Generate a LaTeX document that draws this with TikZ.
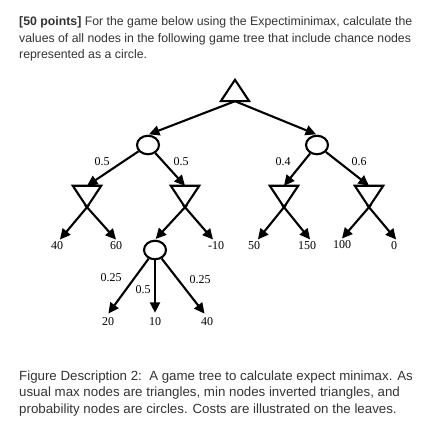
\documentclass[tikz,border=0pt]{standalone}
\usepackage{fontspec}
\setmainfont{Liberation Serif}
\newfontfamily\sansf{Liberation Sans}
\usetikzlibrary{arrows.meta,shapes.geometric}
\definecolor{txt}{RGB}{51,51,51}
\begin{document}
\begin{tikzpicture}[x=1pt,y=1pt,
  arr/.style={line width=2.1pt, -{Triangle[length=10.5pt,width=10pt]}},
  shapeline/.style={line width=2.1pt, line join=miter},
  chance/.style={ellipse, draw, line width=2.1pt, minimum width=22pt, minimum height=18.5pt, inner sep=0pt},
  tribox/.style={minimum width=28pt, minimum height=21pt, inner sep=0pt},
  leaf/.style={font=\fontsize{12}{12}\selectfont, inner sep=0pt, text height=8pt, text depth=0pt},
  prob/.style={font=\fontsize{12}{12}\selectfont, inner sep=0pt},
  para/.style={font=\sansf\fontsize{12.3}{12.3}\selectfont, text=txt, anchor=base west, inner sep=0pt},
  capt/.style={font=\sansf\fontsize{13.3}{13.3}\selectfont, text=txt, anchor=base west, inner sep=0pt}]
\useasboundingbox (0,0) rectangle (436,-430);

% question text
\node[para] (t1) at (19,-26) {\textbf{[50 points]} For the game below using the Expectiminimax, calculate the};
\node[para] (t2) at (19,-42.5) {values of all nodes in the following game tree that include chance nodes};
\node[para] (t3) at (19,-59) {represented as a circle.};

% root max node
\node[tribox] (r) at (235,-90.5) {};
\draw[shapeline] (r.south west) -- (r.south east) -- (r.north) -- cycle;

% chance nodes
\node[chance] (c1) at (148,-145) {};
\node[chance] (c2) at (317,-145) {};

% min nodes
\node[tribox] (m1) at (87,-196.5) {};
\node[tribox] (m2) at (185,-196.5) {};
\node[tribox] (m3) at (284,-196.5) {};
\node[tribox] (m4) at (369,-196.5) {};
\foreach \m in {m1,m2,m3,m4}
  \draw[shapeline] (\m.north west) -- (\m.north east) -- (\m.south) -- cycle;

% chance node under m2
\node[chance] (c3) at (155,-250) {};

% leaves
\node[leaf] (l1) at (57,-246) {40};
\node[leaf] (l2) at (116,-246) {60};
\node[leaf] (l3) at (216,-246) {-10};
\node[leaf] (l4) at (254,-246) {50};
\node[leaf] (l5) at (307,-246) {150};
\node[leaf] (l6) at (342,-245) {100};
\node[leaf] (l7) at (394,-246) {0};
\node[leaf] (l8) at (108,-321) {20};
\node[leaf] (l9) at (155,-321) {10};
\node[leaf] (l10) at (207,-321) {40};

% probability labels
\node[prob] (p1) at (102,-161.5) {0.5};
\node[prob] (p2) at (181,-162) {0.5};
\node[prob] (p3) at (283,-162) {0.4};
\node[prob] (p4) at (359,-162) {0.6};
\node[prob] (p5) at (111,-278) {0.25};
\node[prob] (p6) at (143,-290) {0.5};
\node[prob] (p7) at (200,-279.5) {0.25};

% connectors
\draw[arr, shorten >=1pt] (r.south) -- (c1.north);
\draw[arr, shorten >=1pt] (r.south) -- (c2.north);
\draw[arr] (c1) -- (m1.north);
\draw[arr] (c1) -- (m2.north);
\draw[arr] (c2) -- (m3.north);
\draw[arr] (c2) -- (m4.north);

\draw[arr, shorten <=-3pt, shorten >=3pt] (m1.south) -- ([xshift=1pt]l1.north);
\draw[arr, shorten <=-3pt, shorten >=3pt] (m1.south) -- ([xshift=2pt]l2.north);
\draw[arr, shorten <=-3pt, shorten >=1pt] (m2.south) -- (c3.north);
\draw[arr, shorten <=-3pt, shorten >=3pt] (m2.south) -- ([xshift=-1pt]l3.north);
\draw[arr, shorten <=-3pt, shorten >=3pt] (m3.south) -- ([xshift=2pt]l4.north);
\draw[arr, shorten <=-3pt, shorten >=3pt] (m3.south) -- ([xshift=5pt]l5.north);
\draw[arr, shorten <=-3pt, shorten >=3pt] (m4.south) -- ([xshift=-2pt]l6.north);
\draw[arr, shorten <=-3pt, shorten >=3pt] (m4.south) -- ([xshift=4pt]l7.north);

\draw[arr, shorten >=4pt] (c3) -- ([xshift=-2pt]l8.north);
\draw[arr, shorten >=4pt] (c3.south) -- (l9.north);
\draw[arr, shorten >=4pt] (c3) -- (l10.north);

% caption
\node[capt] (d1) at (19,-380) {Figure Description 2:\ \ A game tree to calculate expect minimax. As};
\node[capt] (d2) at (19,-396.5) {usual max nodes are triangles, min nodes inverted triangles, and};
\node[capt] (d3) at (19,-413) {probability nodes are circles. Costs are illustrated on the leaves.};
\end{tikzpicture}
\end{document}
